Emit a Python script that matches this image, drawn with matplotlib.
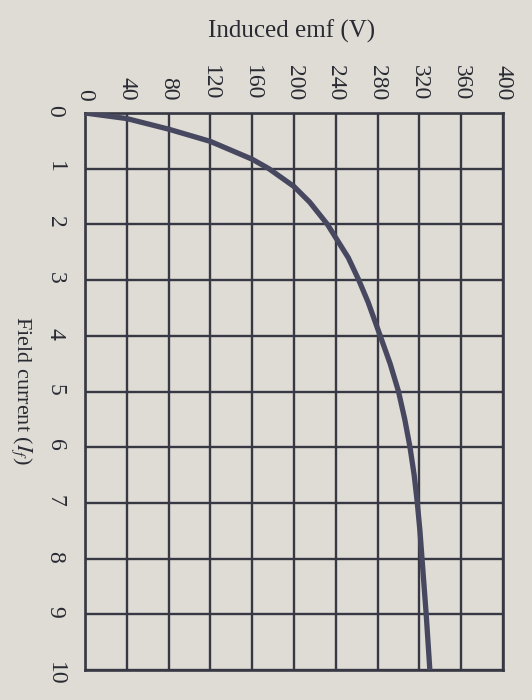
import matplotlib
matplotlib.use("Agg")
import matplotlib.pyplot as plt

# Data read from the (rotated) magnetization curve
field_current = [0, 0.1, 0.29, 0.51, 0.83, 1.0, 1.32, 1.6, 2.0, 2.24, 2.6, 3.0, 3.4, 3.87, 4.0, 4.5, 5.0, 5.5, 6.0, 6.5, 7.0, 7.5, 8.0, 9.0, 10.0]
induced_emf   = [0, 40, 80, 120, 160, 176, 200, 215, 232, 240, 252, 262, 271, 280, 282.5, 292, 300, 306, 311, 315, 318, 320.5, 322.5, 326.5, 330]

emf_ticks = [0, 40, 80, 120, 160, 200, 240, 280, 320, 360, 400]
current_ticks = [0, 1, 2, 3, 4, 5, 6, 7, 8, 9, 10]

bg = "#dedcd5"
ink = "#383844"
curve_col = "#474860"
txt = "#2a2a33"

plt.rcParams['font.family'] = ['Liberation Serif', 'DejaVu Serif']
plt.rcParams['mathtext.fontset'] = 'stix'

fig = plt.figure(figsize=(5.32, 7.0), dpi=100, facecolor=bg)
ax = fig.add_axes([85/532, 1 - 670/700, (503-85)/532, (670-113)/700])
ax.set_facecolor(bg)

ax.plot(induced_emf, field_current, color=curve_col, lw=3.8,
        solid_capstyle='round', solid_joinstyle='round', zorder=3)

ax.set_xlim(0, 400)
ax.set_ylim(10, 0)
ax.set_xticks(emf_ticks)
ax.set_yticks(current_ticks)
ax.xaxis.tick_top()
ax.grid(True, color=ink, lw=1.7, zorder=1)
for s in ax.spines.values():
    s.set_color(ink)
    s.set_linewidth(1.9)

ax.tick_params(axis='x', which='both', length=0, pad=9, labelsize=17, labelcolor=txt, labelrotation=-90)
ax.tick_params(axis='y', which='both', length=0, pad=14, labelsize=17, labelcolor=txt, labelrotation=-90)

fig.text(292/532, 1 - 31/700, "Induced emf (V)", ha='center', va='center', fontsize=18, color=txt)
fig.text(21/532, 1 - 390/700, r"Field current ($I_f$)", ha='center', va='center', rotation=-90, fontsize=16, color=txt)

fig.savefig("out.png", dpi=100, facecolor=bg)
